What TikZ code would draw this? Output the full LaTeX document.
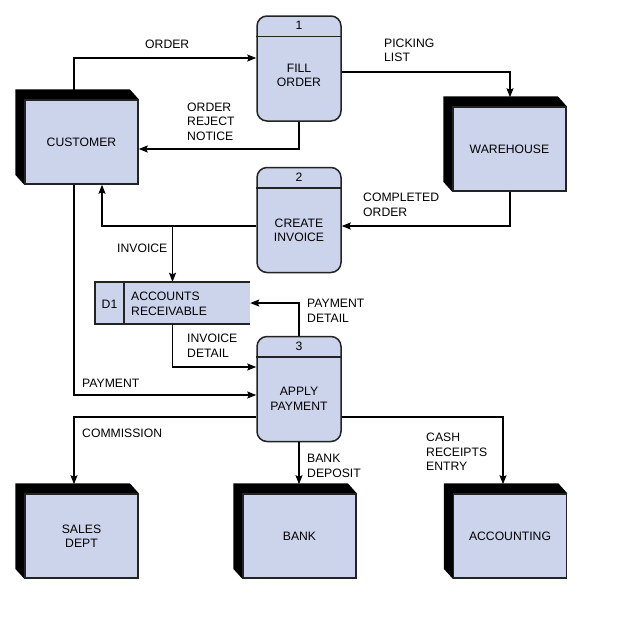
\documentclass[tikz,border=0pt]{standalone}
\usepackage{fontspec}
\setmainfont{Liberation Sans}
\usetikzlibrary{arrows.meta,calc,backgrounds}
\definecolor{boxfill}{RGB}{204,212,236}
\definecolor{edge}{RGB}{35,35,35}
\newcommand\entshadow[1]{%
  \fill[black] ($(#1.north west)+(-9,-10)$) -- ($(#1.north east)+(-9,-10)$) -- (#1.north east)
    -- (#1.south west) -- ($(#1.south west)+(-9,-10)$) -- cycle;}
\newcommand\prochead[1]{%
  \draw[edge, line width=1.5pt] ($(#1.north west)+(0,21)$) -- ($(#1.north east)+(0,21)$);}
\begin{document}
\begin{tikzpicture}[x=1pt,y=-1pt,
  font=\fontsize{12.2}{14.5}\selectfont,
  entity/.style={draw=edge, line width=1.5pt, fill=boxfill, minimum width=113pt,
    minimum height=84pt, inner sep=0pt, align=center},
  process/.style={draw=edge, line width=1.5pt, fill=boxfill, rounded corners=10pt,
    minimum width=84pt, minimum height=105pt, inner sep=0pt},
  txt/.style={align=center, inner sep=0pt},
  flow/.style={draw=black, line width=1.3pt, -{Stealth[length=9pt,width=7pt,inset=1.5pt]}},
  lbl/.style={anchor=west, align=left, inner sep=0pt},
]
\useasboundingbox (0,0) rectangle (634,625);

% external entities
\node[entity] (cust) at (81.5,142) {CUSTOMER};
\node[entity] (wh) at (509.5,149) {WAREHOUSE};
\node[entity] (sales) at (81.5,536) {SALES\\DEPT};
\node[entity] (bank) at (299.5,536) {BANK};
\node[entity] (acct) at (510,536) {ACCOUNTING};
\begin{scope}[on background layer]
  \entshadow{cust}\entshadow{wh}\entshadow{sales}\entshadow{bank}\entshadow{acct}
\end{scope}

% processes
\node[process] (p1) at (299,68.5) {};
\node[process] (p2) at (299,220) {};
\node[process] (p3) at (299,389) {};
\prochead{p1}\prochead{p2}\prochead{p3}
\node[txt] (p1n) at ($(p1.north)+(0,10.5)$) {1};
\node[txt] (p2n) at ($(p2.north)+(0,10.5)$) {2};
\node[txt] (p3n) at ($(p3.north)+(0,10.5)$) {3};
\node[txt] (p1t) at (299,75.5) {FILL\\ORDER};
\node[txt] (p2t) at (299,230.5) {CREATE\\INVOICE};
\node[txt] (p3t) at (299,399) {APPLY\\PAYMENT};

% data store
\node[fill=boxfill, minimum width=155pt, minimum height=42pt, inner sep=0pt] (store) at (172.5,303) {};
\draw[edge, line width=1.5pt] (store.north east) -- (store.north west) -- (store.south west) -- (store.south east);
\draw[edge, line width=1.5pt] ($(store.north west)+(29,0)$) -- ($(store.south west)+(29,0)$);
\node[txt] (d1) at (109.5,304) {D1};
\node[lbl] (storet) at (131,304) {ACCOUNTS\\RECEIVABLE};

% flows
\draw[flow] ($(cust.north)+(-7.5,-9)$) |- ($(p1.west)+(0,-10.5)$);
\draw[flow] (p1.south) |- ($(cust.east)+(0,7)$);
\draw[flow] ($(p1.east)+(0,3.5)$) -| ($(wh.north)+(0.5,-9)$);
\draw[flow] ($(wh.south)+(0.5,0)$) |- ($(p2.east)+(0,6)$);
\coordinate (invout) at ($(p2.west)+(0,6)$);
\draw[flow] (invout) -| ($(cust.south)+(20.5,0)$);
\coordinate (jinv) at (invout -| store.north);
\draw[flow] (jinv) -- (store.north);
\draw[flow] (p3.north) |- (store.east);
\draw[flow] (store.south) |- ($(p3.west)+(0,-22)$);
\draw[flow] ($(cust.south)+(-7.5,0)$) |- ($(p3.west)+(0,6)$);
\draw[flow] ($(p3.west)+(0,28)$) -| ($(sales.north)+(-7.5,-9)$);
\draw[flow] (p3.south) -- ($(p3.south |- bank.north)+(0,-9)$);
\draw[flow] ($(p3.east)+(0,28)$) -| ($(acct.north)+(-7,-9)$);

% flow labels
\node[lbl] (lorder) at (145,44) {ORDER};
\node[lbl] (lreject) at (187,121.5) {ORDER\\REJECT\\NOTICE};
\node[lbl] (lpick) at (384,50.5) {PICKING\\LIST};
\node[lbl] (lcomp) at (363,205) {COMPLETED\\ORDER};
\node[lbl] (linv) at (117,248) {INVOICE};
\node[lbl] (lpdet) at (307,311) {PAYMENT\\DETAIL};
\node[lbl] (lidet) at (187,345.5) {INVOICE\\DETAIL};
\node[lbl] (lpay) at (82,383) {PAYMENT};
\node[lbl] (lcomm) at (82,433) {COMMISSION};
\node[lbl] (lbank) at (307,466) {BANK\\DEPOSIT};
\node[lbl] (lcash) at (426,452) {CASH\\RECEIPTS\\ENTRY};
\end{tikzpicture}
\end{document}
